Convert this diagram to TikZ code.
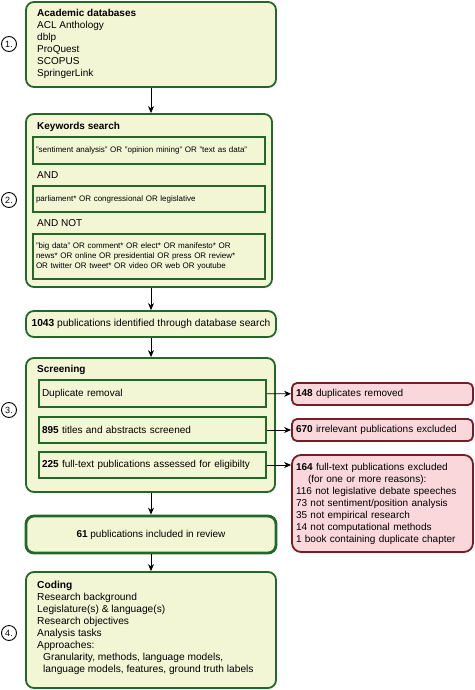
\documentclass[tikz,border=0pt]{standalone}
\usepackage{fontspec}
\setmainfont{Liberation Sans}
\usetikzlibrary{arrows.meta}

\definecolor{boxgreen}{RGB}{242,246,212}
\definecolor{edgegreen}{RGB}{34,104,40}
\definecolor{boxpink}{RGB}{249,215,218}
\definecolor{edgered}{RGB}{118,30,38}

\tikzset{
  outerbox/.style={draw=edgegreen,fill=boxgreen,line width=1.8pt,rounded corners=8pt,inner sep=0pt},
  innerbox/.style={draw=edgegreen,fill=boxgreen,line width=2.4pt,inner sep=3pt,align=left},
  pinkbox/.style={draw=edgered,fill=boxpink,line width=1.8pt,rounded corners=5pt,inner sep=4pt,align=left},
  boxtext/.style={inner sep=0pt,align=left,font=\fontsize{10}{12}\selectfont},
  kwfont/.style={font=\fontsize{8}{10}\selectfont},
  stepnum/.style={draw,circle,line width=0.9pt,minimum size=15pt,inner sep=0pt,font=\fontsize{9}{10}\selectfont},
  arr/.style={-{Stealth[length=7pt,width=6pt]},line width=0.9pt}
}

\begin{document}
\begin{tikzpicture}[x=1pt,y=-1pt]
\useasboundingbox (0,0) rectangle (474,690);

% step 1
\node[outerbox,minimum width=250pt,minimum height=85pt] (db) at (151,44.5) {};
\node[boxtext,anchor=north west] (dbtext) at (37,9) {\textbf{Academic databases}\\ACL Anthology\\dblp\\ProQuest\\SCOPUS\\SpringerLink};
\node[stepnum] (n1) at (9,44) {1.};

% step 2
\node[outerbox,minimum width=246pt,minimum height=173pt] (kw) at (149,200.5) {};
\node[boxtext,anchor=west] (kwtitle) at (37,127) {\textbf{Keywords search}};
\node[innerbox,kwfont,minimum width=232pt,minimum height=27pt,text width=226pt] (kwa) at (149,150.5)
  {"sentiment analysis" OR "opinion mining" OR "text as data"};
\node[boxtext,anchor=west] (and) at (37,175) {AND};
\node[innerbox,kwfont,minimum width=232pt,minimum height=26pt,text width=226pt] (kwb) at (149,199)
  {parliament* OR congressional OR legislative};
\node[boxtext,anchor=west] (andnot) at (37,223) {AND NOT};
\node[innerbox,kwfont,minimum width=232pt,minimum height=45pt,text width=226pt] (kwc) at (149,256.5)
  {"big data" OR comment* OR elect* OR manifesto* OR\\news* OR online OR presidential OR press OR review*\\OR twitter OR tweet* OR video OR web OR youtube};
\node[stepnum] (n2) at (9,200) {2.};

% identified
\node[outerbox,minimum width=250pt,minimum height=26pt,font=\fontsize{10.2}{12}\selectfont] (ident) at (151,324)
  {\textbf{1043} publications identified through database search};

% step 3
\node[outerbox,minimum width=249pt,minimum height=134pt] (screen) at (150.5,425) {};
\node[boxtext,anchor=west] (sctitle) at (37,370) {\textbf{Screening}};
\node[innerbox,minimum width=227pt,minimum height=27pt,text width=221pt,font=\fontsize{10}{12}\selectfont] (dup) at (152.5,393.5)
  {Duplicate removal};
\node[innerbox,minimum width=227pt,minimum height=26pt,text width=221pt,font=\fontsize{10}{12}\selectfont] (tiab) at (152.5,430)
  {\textbf{895} titles and abstracts screened};
\node[innerbox,minimum width=227pt,minimum height=26pt,text width=221pt,font=\fontsize{10}{12}\selectfont] (full) at (152.5,465)
  {\textbf{225} full-text publications assessed for eligibilty};
\node[stepnum] (n3) at (9,410) {3.};

% exclusions
\node[pinkbox,minimum width=181pt,minimum height=22pt,text width=173pt,font=\fontsize{10}{12}\selectfont] (dupx) at (382.5,394)
  {\textbf{148} duplicates removed};
\node[pinkbox,minimum width=181pt,minimum height=22pt,text width=173pt,font=\fontsize{10}{12}\selectfont] (irrx) at (382.5,430)
  {\textbf{670} irrelevant publications excluded};
\node[pinkbox,minimum width=181pt,minimum height=97pt,text width=173pt,rounded corners=9pt,font=\fontsize{10}{12}\selectfont] (fullx) at (382.5,503.5)
  {\textbf{164} full-text publications excluded\\\hspace*{12pt}(for one or more reasons):\\116 not legislative debate speeches\\73 not sentiment/position analysis\\35 not empirical research\\14 not computational methods\\1 book containing duplicate chapter};

% included
\node[outerbox,line width=2.8pt,minimum width=250pt,minimum height=37pt,font=\fontsize{10}{12}\selectfont] (incl) at (151,534.5)
  {\textbf{61} publications included in review};

% step 4
\node[outerbox,minimum width=250pt,minimum height=116pt] (coding) at (151,630) {};
\node[boxtext,anchor=north west,font=\fontsize{10.2}{12}\selectfont] (codetext) at (37,581) {\textbf{Coding}\\Research background\\Legislature(s) \& language(s)\\Research objectives\\Analysis tasks\\Approaches:\\\hspace*{6pt}Granularity, methods, language models,\\\hspace*{6pt}language models, features, ground truth labels};
\node[stepnum] (n4) at (9,633) {4.};

% arrows
\draw[arr] (db) -- (db |- kw.north);
\draw[arr] (kw.south -| ident) -- (ident);
\draw[arr] (ident) -- (ident |- screen.north);
\draw[arr] (screen.south -| incl) -- (incl);
\draw[arr] (incl) -- (incl |- coding.north);
\draw[arr] (dup) -- (dupx);
\draw[arr] (tiab) -- (irrx);
\draw[arr] (full.east) -- (full.east -| fullx.west);

\end{tikzpicture}
\end{document}
